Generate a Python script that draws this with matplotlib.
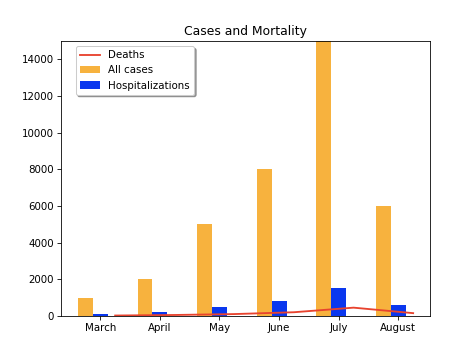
import numpy as np
import matplotlib; matplotlib.use("Agg")
import matplotlib.pyplot as plt

months = ["March", "April", "May", "June", "July", "August"]
all_cases = [1000, 2000, 5000, 8000, 15000, 6000]
hospitalizations = [100, 200, 500, 800, 1500, 600]
deaths = [20, 50, 100, 200, 450, 150]

ORANGE = "#f7b23e"; BLUE = "#0a37ee"; RED = "#e8432e"

fig, ax = plt.subplots(figsize=(474/74, 351/74), dpi=74)
fig.subplots_adjust(left=0.129, right=0.907, top=0.883, bottom=0.100)
x = np.arange(len(months))
w = 0.25
line, = ax.plot(x + w, deaths, color=RED, lw=1.8, label="Deaths")
b1 = ax.bar(x - w, all_cases, width=w, color=ORANGE, label="All cases")
b2 = ax.bar(x, hospitalizations, width=w, color=BLUE, label="Hospitalizations")
ax.set_xticks(x)
ax.set_xticklabels(months)
ax.set_ylim(0, 15000)
ax.set_title("Cases and Mortality")
ax.legend(handles=[line, b1, b2], loc="upper left", bbox_to_anchor=(0.025, 1.0), shadow=True)
plt.savefig("out.png", dpi=74)
